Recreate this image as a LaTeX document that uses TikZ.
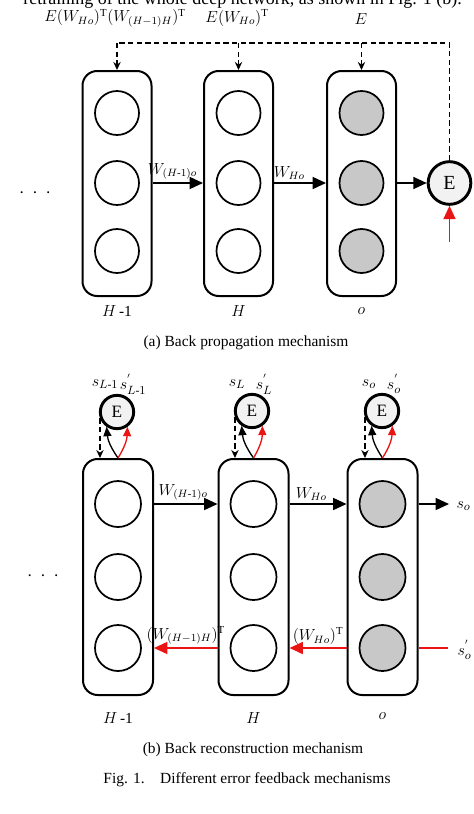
\documentclass[tikz,border=0pt]{standalone}
\usepackage{amsmath,amssymb}
\usepackage{fontspec}
\setmainfont{Liberation Serif}
\usepackage{tikz}
\usetikzlibrary{arrows.meta,positioning,calc}
\definecolor{unitgray}{RGB}{200,200,200}
\definecolor{errgray}{RGB}{242,242,242}
\definecolor{fbred}{RGB}{235,20,20}

\begin{document}
\begin{tikzpicture}[x=0.75pt,y=-0.75pt,
  layerA/.style={rectangle,rounded corners=11pt,draw,line width=1.5pt,
                 minimum width=51.75pt,minimum height=168.75pt,inner sep=0pt},
  layerB/.style={layerA,minimum width=52.5pt,minimum height=177pt},
  unitA/.style={circle,draw,line width=1.3pt,minimum size=33pt,inner sep=0pt},
  unitB/.style={unitA,minimum size=34.5pt},
  outunit/.style={fill=unitgray},
  errnode/.style={circle,draw,line width=2.2pt,fill=errgray,inner sep=0pt,
                  font=\fontsize{15}{15}\selectfont},
  ar/.style={-{Triangle[length=10pt,width=9pt]},line width=1.1pt},
  rar/.style={ar,fbred},
  fb/.style={-{Stealth[length=6pt,width=5.5pt]},line width=1.3pt,dash pattern=on 4pt off 2.5pt},
  cur/.style={-{Triangle[length=7pt,width=6pt]},line width=1pt},
  lab/.style={font=\fontsize{11.5}{12}\selectfont,inner sep=1pt,text=black},
  slab/.style={font=\fontsize{12.5}{13}\selectfont,inner sep=1pt},
  captxt/.style={font=\fontsize{11.6}{13}\selectfont,inner sep=0pt}
]
\useasboundingbox (0,0) rectangle (474,814);
\clip (0,0) rectangle (474,814);

% line of running text cut by the figure edge
\node[anchor=base east,font=\fontsize{13.5}{14}\selectfont,inner sep=0pt] (prevtext) at (462,4)
  {retraining of the whole deep network, as shown in Fig. 1 (b).};

% ---------- (a) back propagation ----------
\node[layerA] (prevA) at (117,183.5) {};
\node[layerA] (hidA)  at (238.5,183.5) {};
\node[layerA] (outA)  at (361.5,183.5) {};

\node[unitA] (prevA1) at (117,113) {};
\node[unitA] (prevA2) at (117,183) {};
\node[unitA] (prevA3) at (117,251) {};
\node[unitA] (hidA1) at (238.5,113) {};
\node[unitA] (hidA2) at (238.5,183) {};
\node[unitA] (hidA3) at (238.5,251) {};
\node[unitA,outunit] (outA1) at (361.5,113) {};
\node[unitA,outunit] (outA2) at (361.5,183) {};
\node[unitA,outunit] (outA3) at (361.5,251) {};

\node[errnode,minimum size=32pt] (errA) at (449.5,183) {E};
\node[lab] (dotsA) at (35,193) {\Large$\cdot$\hspace{6pt}$\cdot$\hspace{6pt}$\cdot$};

\draw[ar] (prevA.east |- prevA2) -- node[lab,above=1pt,xshift=-4pt]{$W_{(H\text{-}1)o}$} (hidA.west |- hidA2);
\draw[ar] (hidA.east |- hidA2) -- node[lab,above=1pt,xshift=-8pt]{$W_{Ho}$} (outA.west |- outA2);
\draw[ar] (outA.east |- outA2) -- (errA);

\coordinate (truthA) at (449.5,242);
\draw[rar] (truthA) -- (errA.south);

\coordinate (fbcorner) at (449.5,43);
\draw[line width=1.3pt,dash pattern=on 4pt off 2.5pt] (errA.north) -- (fbcorner) -- (prevA.north |- fbcorner);
\draw[fb] (prevA.north |- fbcorner) -- (prevA.north);
\draw[fb] (hidA.north |- fbcorner) -- (hidA.north);
\draw[fb] (outA.north |- fbcorner) -- (outA.north);

\node[lab] (fbtxt1) at (115,18) {$E(W_{Ho})^{\mathrm{T}}(W_{(H-1)H})^{\mathrm{T}}$};
\node[lab] (fbtxt2) at (237,18) {$E(W_{Ho})^{\mathrm{T}}$};
\node[lab] (fbtxt3) at (361,19) {$E$};

\node[lab] (nameA1) at (117,311) {$H$\,-1};
\node[lab] (nameA2) at (238.5,311) {$H$};
\node[lab] (nameA3) at (361.5,311) {$o$};
\node[captxt] (capA) at (246,343) {(a) Back propagation mechanism};

% ---------- (b) back reconstruction ----------
\node[layerB] (prevB) at (118,577) {};
\node[layerB] (hidB)  at (253.5,577) {};
\node[layerB] (outB)  at (382.5,577) {};

\node[unitB] (prevB1) at (118,504) {};
\node[unitB] (prevB2) at (118,577) {};
\node[unitB] (prevB3) at (118,648) {};
\node[unitB] (hidB1) at (253.5,504) {};
\node[unitB] (hidB2) at (253.5,577) {};
\node[unitB] (hidB3) at (253.5,648) {};
\node[unitB,outunit] (outB1) at (382.5,504) {};
\node[unitB,outunit] (outB2) at (382.5,577) {};
\node[unitB,outunit] (outB3) at (382.5,648) {};

\node[errnode,minimum size=25pt,font=\fontsize{13}{13}\selectfont] (errB1) at (117,412) {E};
\node[errnode,minimum size=25pt,font=\fontsize{13}{13}\selectfont] (errB2) at (252,411) {E};
\node[errnode,minimum size=25pt,font=\fontsize{13}{13}\selectfont] (errB3) at (382,411) {E};
\node[lab] (dotsB) at (43,576) {\Large$\cdot$\hspace{6pt}$\cdot$\hspace{6pt}$\cdot$};

\node[slab] (sB1) at (105,384) {$s_{L\text{-}1}$};
\node[slab] (tB1) at (133,384) {$s^{'}_{L\text{-}1}$};
\node[slab] (sB2) at (237,384) {$s_{L}$};
\node[slab] (tB2) at (264,384) {$s^{'}_{L}$};
\node[slab] (sB3) at (369,384) {$s_{o}$};
\node[slab] (tB3) at (394,384) {$s^{'}_{o}$};

\draw[fb] (errB1.200) -- (errB1.200 |- prevB.north);
\draw[cur] (prevB.north) to[bend left=15] (errB1.235);
\draw[cur,fbred] (prevB.north) to[bend right=15] (errB1.-55);
\draw[fb] (errB2.200) -- (errB2.200 |- hidB.north);
\draw[cur] (hidB.north) to[bend left=15] (errB2.235);
\draw[cur,fbred] (hidB.north) to[bend right=15] (errB2.-55);
\draw[fb] (errB3.200) -- (errB3.200 |- outB.north);
\draw[cur] (outB.north) to[bend left=15] (errB3.235);
\draw[cur,fbred] (outB.north) to[bend right=15] (errB3.-55);

\draw[ar] (prevB.east |- prevB1) -- node[lab,above=1pt,xshift=-2pt]{$W_{(H\text{-}1)o}$} (hidB.west |- hidB1);
\draw[ar] (hidB.east |- hidB1) -- node[lab,above=1pt,xshift=-5pt]{$W_{Ho}$} (outB.west |- outB1);
\coordinate (outend) at (449,504);
\draw[ar] (outB.east |- outB1) -- (outend);
\node[slab,anchor=west] (soB) at (455,506) {$s_{o}$};

\draw[rar] (hidB.west |- hidB3) -- node[lab,above=1pt]{$(W_{(H-1)H})^{\mathrm{T}}$} (prevB.east |- prevB3);
\draw[rar] (outB.west |- outB3) -- node[lab,above=1pt]{$(W_{Ho})^{\mathrm{T}}$} (hidB.east |- hidB3);
\coordinate (tgtin) at (448,648);
\draw[line width=1.1pt,fbred] (tgtin) -- (outB.east |- outB3);
\node[slab,anchor=west] (toB) at (456,650) {$s^{'}_{o}$};

\node[lab] (nameB1) at (118,718) {$H$\,-1};
\node[lab] (nameB2) at (253.5,718) {$H$};
\node[lab] (nameB3) at (382.5,716) {$o$};
\node[captxt] (capB) at (253,750) {(b) Back reconstruction mechanism};
\node[captxt] (figcap) at (247,780) {Fig. 1.\quad Different error feedback mechanisms};
\end{tikzpicture}
\end{document}
